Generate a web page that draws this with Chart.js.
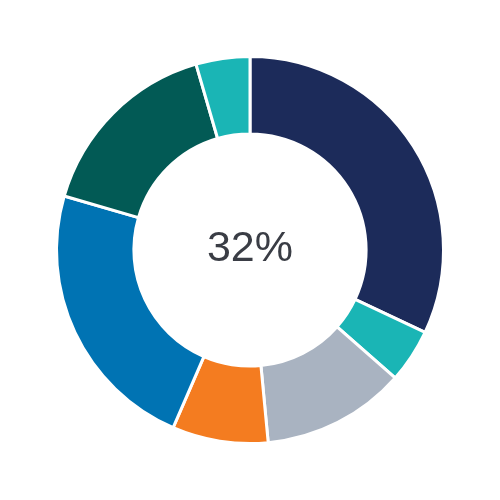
<!DOCTYPE html>
<html>
<head>
<meta charset="utf-8">
<script src="https://cdn.jsdelivr.net/npm/chart.js@4"></script>
<style>
  html, body { margin: 0; padding: 0; background: #fff; }
  #wrap { position: relative; width: 500px; height: 500px; }
  #centerText {
    position: absolute; left: 0; top: -4px; width: 500px; height: 500px;
    display: flex; align-items: center; justify-content: center;
    font-family: "Liberation Sans", Arial, sans-serif; font-size: 43px; color: #3a3d45;
    pointer-events: none;
  }
</style>
</head>
<body>
<div id="wrap">
  <canvas id="donut" width="500" height="500"></canvas>
  <div id="centerText">32%</div>
</div>
<script>
// slice data, clockwise from 12 o'clock
var labels = ['A', 'B', 'C', 'D', 'E', 'F', 'G'];
var values = [32, 4.5, 12, 8, 23, 16, 4.5];
var colors = ['#1c2b5a', '#1ab5b5', '#a9b3c1', '#f47c20', '#0073b3', '#025a55', '#1ab5b5'];

document.addEventListener("DOMContentLoaded", function() {
    var ctx = document.getElementById('donut').getContext('2d');
    new Chart(ctx, {
        type: 'doughnut',
        data: {
            labels: labels,
            datasets: [{
                data: values,
                backgroundColor: colors,
                borderColor: '#ffffff',
                borderWidth: 3
            }]
        },
        options: {
            responsive: false,
            animation: false,
            cutout: '60%',
            layout: { padding: 55 },
            plugins: {
                legend: { display: false },
                tooltip: { enabled: false }
            }
        }
    });
});
</script>
</body>
</html>
